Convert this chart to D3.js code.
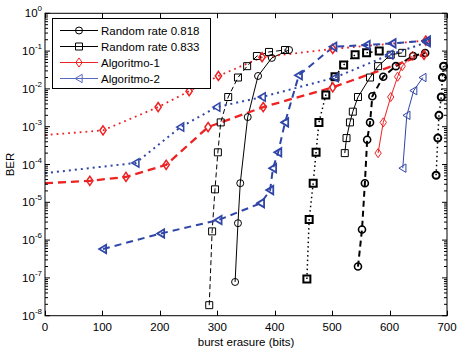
<!DOCTYPE html>
<html>
<head>
<meta charset="utf-8">
<script src="https://cdn.jsdelivr.net/npm/d3@7"></script>
<style>
  body { margin: 0; background: #fff; }
  svg { font-family: "Liberation Sans", Arial, sans-serif; }
</style>
</head>
<body>
<div id="chart"></div>
<script>
// ---- data ----
const xTicks = [0, 100, 200, 300, 400, 500, 600, 700];
const yExponents = [-8, -7, -6, -5, -4, -3, -2, -1, 0];

// Random rate 0.818 (circles)
const rate818Solid = [[331, 7.8e-8], [336, 2.8e-6], [340, 3.2e-5], [353, 1.8e-3], [371, 0.022], [395, 0.066], [425, 0.107]];
const rate818Dashed = [[545, 2e-7], [552, 1.9e-6], [557, 3.2e-5], [561, 4.5e-4], [566, 1.3e-3], [570, 6.4e-3], [589, 0.021], [611, 0.04], [641, 0.074], [662, 0.089]];
const rate818Dotted = [[681, 5.2e-5], [684, 5e-4], [686, 2e-3], [690, 6.1e-3], [692, 0.02], [694, 0.04]];

// Random rate 0.833 (squares)
const rate833Dashed = [[286, 1.9e-8], [291, 1.7e-6], [296, 2.2e-5], [301, 2.1e-4], [306, 1.3e-3], [319, 6.1e-3], [336, 0.02], [352, 0.04], [369, 0.074], [390, 0.095], [418, 0.107]];
const rate833Dotted = [[456, 9.3e-8], [460, 3.5e-6], [467, 3.2e-5], [472, 2.1e-4], [477, 1.3e-3], [489, 6.9e-3], [505, 0.021], [520, 0.043], [540, 0.08], [560, 0.09], [582, 0.1]];
const rate833Solid = [[522, 2e-4], [525, 5e-4], [531, 1.3e-3], [536, 2.5e-3], [545, 6.1e-3], [566, 0.02], [580, 0.04], [602, 0.08], [622, 0.09]];

// Algoritmo-1 (diamonds)
const alg1Dotted = [[0, 6e-4], [101, 8e-4], [197, 3.3e-3], [251, 8.7e-3], [302, 2.2e-2], [378, 6.9e-2], [501, 0.114], [663, 0.19]];
const alg1Dashed = [[0, 3.2e-5], [78, 3.7e-5], [141, 4.7e-5], [211, 9.8e-5], [284, 9.8e-4], [380, 3.3e-3], [501, 1.1e-2], [660, 0.08]];
const alg1Solid = [[580, 2e-4], [589, 1.3e-3], [602, 6.1e-3], [614, 0.021], [622, 0.04], [640, 0.075]];

// Algoritmo-2 (left triangles)
const alg2Dotted = [[0, 5.9e-5], [158, 1.1e-4], [236, 9.8e-4], [299, 3.3e-3], [378, 6.1e-3], [505, 0.02], [600, 0.08], [665, 0.17]];
const alg2Dashed = [[101, 5.8e-7], [202, 1.5e-6], [302, 3.4e-6], [376, 9.5e-6], [392, 2.1e-5], [397, 8e-5], [406, 2.1e-4], [418, 1.3e-3], [442, 2.3e-2], [502, 0.13], [560, 0.145], [605, 0.16], [665, 0.19]];
const alg2Solid = [[623, 8e-5], [630, 2e-3], [642, 9e-3], [658, 0.02]];

const legendLabels = ['Random rate 0.818', 'Random rate 0.833', 'Algoritmo-1', 'Algoritmo-2'];

// ---- drawing ----
const width = 460, height = 351;
const red = '#ee2222', blue = '#2f45a8';
const fontSize = '11.5px';

const svg = d3.select('#chart').append('svg')
    .attr('width', width)
    .attr('height', height);

const x = d3.scaleLinear().domain([0, 700]).range([45, 447]);
const y = d3.scaleLog().domain([1e-8, 1]).range([315.7, 13.3]);

const plotLeft = x.range()[0], plotRight = x.range()[1];
const plotTop = y.range()[1], plotBottom = y.range()[0];

svg.append('clipPath').attr('id', 'plotclip')
    .append('rect')
    .attr('x', plotLeft).attr('y', plotTop)
    .attr('width', plotRight - plotLeft).attr('height', plotBottom - plotTop);

// marker shapes
function markerPath(type, s) {
    if (type === 'circle') {
        return `M${-s},0A${s},${s} 0 1,0 ${s},0A${s},${s} 0 1,0 ${-s},0Z`;
    }
    if (type === 'square') {
        return `M${-s},${-s}L${s},${-s}L${s},${s}L${-s},${s}Z`;
    }
    if (type === 'diamond') {
        return `M0,${-s * 1.3}L${s * 0.9},0L0,${s * 1.3}L${-s * 0.9},0Z`;
    }
    // left triangle
    return `M${-s * 1.1},0L${s * 0.9},${-s * 1.2}L${s * 0.9},${s * 1.2}Z`;
}

const series = [
    { data: rate818Solid, color: '#000', width: 1, dash: null, marker: 'circle', mw: 1 },
    { data: rate818Dashed, color: '#000', width: 2, dash: '6,4', marker: 'circle', mw: 1.6 },
    { data: rate818Dotted, color: '#000', width: 1.5, dash: '1.5,3', marker: 'circle', mw: 2 },
    { data: rate833Dashed, color: '#000', width: 1, dash: '5,3', marker: 'square', mw: 1 },
    { data: rate833Dotted, color: '#000', width: 1.5, dash: '1.5,3', marker: 'square', mw: 2 },
    { data: rate833Solid, color: '#000', width: 1, dash: null, marker: 'square', mw: 1 },
    { data: alg1Dotted, color: red, width: 1.8, dash: '1.8,4', marker: 'diamond', mw: 1.5, hideFirst: true },
    { data: alg1Dashed, color: red, width: 2.3, dash: '8,5', marker: 'diamond', mw: 1.5, hideFirst: true },
    { data: alg1Solid, color: red, width: 1, dash: null, marker: 'diamond', mw: 1 },
    { data: alg2Dotted, color: blue, width: 2, dash: '2,4', marker: 'tri', mw: 1.5, hideFirst: true },
    { data: alg2Dashed, color: blue, width: 2, dash: '7,5', marker: 'tri', mw: 1.8 },
    { data: alg2Solid, color: blue, width: 1, dash: null, marker: 'tri', mw: 1 }
];

const line = d3.line().x(d => x(d[0])).y(d => y(d[1]));

// plot background
svg.append('rect')
    .attr('x', plotLeft).attr('y', plotTop)
    .attr('width', plotRight - plotLeft).attr('height', plotBottom - plotTop)
    .attr('fill', '#fff')
    .attr('stroke', 'none');

const plot = svg.append('g').attr('clip-path', 'url(#plotclip)');

series.forEach(s => {
    plot.append('path')
        .datum(s.data)
        .attr('d', line)
        .attr('fill', 'none')
        .attr('stroke', s.color)
        .attr('stroke-width', s.width)
        .attr('stroke-dasharray', s.dash);
});

series.forEach(s => {
    const pts = s.hideFirst ? s.data.slice(1) : s.data;
    svg.append('g').selectAll('path')
        .data(pts)
        .enter().append('path')
        .attr('transform', d => `translate(${x(d[0])},${y(d[1])})`)
        .attr('d', markerPath(s.marker, 3.5))
        .attr('fill', 'none')
        .attr('stroke', s.color)
        .attr('stroke-width', s.mw);
});

// ticks inward on all four sides
const axes = svg.append('g').attr('stroke', '#000').attr('stroke-width', 1);

xTicks.forEach(t => {
    const px = Math.round(x(t)) + 0.5;
    axes.append('line').attr('x1', px).attr('x2', px).attr('y1', plotBottom).attr('y2', plotBottom - 5);
    axes.append('line').attr('x1', px).attr('x2', px).attr('y1', plotTop).attr('y2', plotTop + 5);
});

yExponents.forEach(e => {
    const py = y(Math.pow(10, e));
    axes.append('line').attr('x1', plotLeft).attr('x2', plotLeft + 5).attr('y1', py).attr('y2', py);
    axes.append('line').attr('x1', plotRight).attr('x2', plotRight - 5).attr('y1', py).attr('y2', py);
    if (e < 0) {
        for (let m = 2; m <= 9; m++) {
            const my = y(m * Math.pow(10, e));
            axes.append('line').attr('x1', plotLeft).attr('x2', plotLeft + 3).attr('y1', my).attr('y2', my);
            axes.append('line').attr('x1', plotRight).attr('x2', plotRight - 3).attr('y1', my).attr('y2', my);
        }
    }
});

svg.append('rect')
    .attr('x', plotLeft).attr('y', plotTop)
    .attr('width', plotRight - plotLeft).attr('height', plotBottom - plotTop)
    .attr('fill', 'none')
    .attr('stroke', '#000')
    .attr('stroke-width', 1);

// tick labels
svg.append('g').selectAll('text')
    .data(xTicks)
    .enter().append('text')
    .attr('x', d => x(d))
    .attr('y', plotBottom + 15)
    .attr('text-anchor', 'middle')
    .style('font-size', fontSize)
    .text(d => d);

const yLabels = svg.append('g');
yExponents.forEach(e => {
    const t = yLabels.append('text')
        .attr('x', plotLeft - 3)
        .attr('y', y(Math.pow(10, e)) + 4)
        .attr('text-anchor', 'end')
        .style('font-size', fontSize);
    t.append('tspan').text('10');
    t.append('tspan')
        .attr('dy', -6)
        .style('font-size', '8px')
        .text(e === 0 ? '0' : '-' + Math.abs(e));
});

// axis titles
svg.append('text')
    .attr('x', (plotLeft + plotRight) / 2)
    .attr('y', 346)
    .attr('text-anchor', 'middle')
    .style('font-size', fontSize)
    .text('burst erasure (bits)');

svg.append('text')
    .attr('transform', `translate(14, ${(plotTop + plotBottom) / 2}) rotate(-90)`)
    .attr('text-anchor', 'middle')
    .style('font-size', fontSize)
    .text('BER');

// legend
const legendStyles = [
    { color: '#000', marker: 'circle' },
    { color: '#000', marker: 'square' },
    { color: red, marker: 'diamond' },
    { color: '#5868c0', marker: 'tri' }
];
const legend = svg.append('g');
legend.append('rect')
    .attr('x', 52.5).attr('y', 18.5)
    .attr('width', 158).attr('height', 70)
    .attr('fill', '#fff')
    .attr('stroke', '#000')
    .attr('stroke-width', 1);

legendLabels.forEach((label, i) => {
    const ly = 30.5 + i * 16;
    const st = legendStyles[i];
    legend.append('line')
        .attr('x1', 60).attr('x2', 98)
        .attr('y1', ly).attr('y2', ly)
        .attr('stroke', st.color)
        .attr('stroke-width', 1);
    legend.append('path')
        .attr('transform', `translate(79,${ly})`)
        .attr('d', markerPath(st.marker, 3.5))
        .attr('fill', 'none')
        .attr('stroke', st.color)
        .attr('stroke-width', 1);
    legend.append('text')
        .attr('x', 101)
        .attr('y', ly + 4)
        .style('font-size', fontSize)
        .text(label);
});
</script>
</body>
</html>
